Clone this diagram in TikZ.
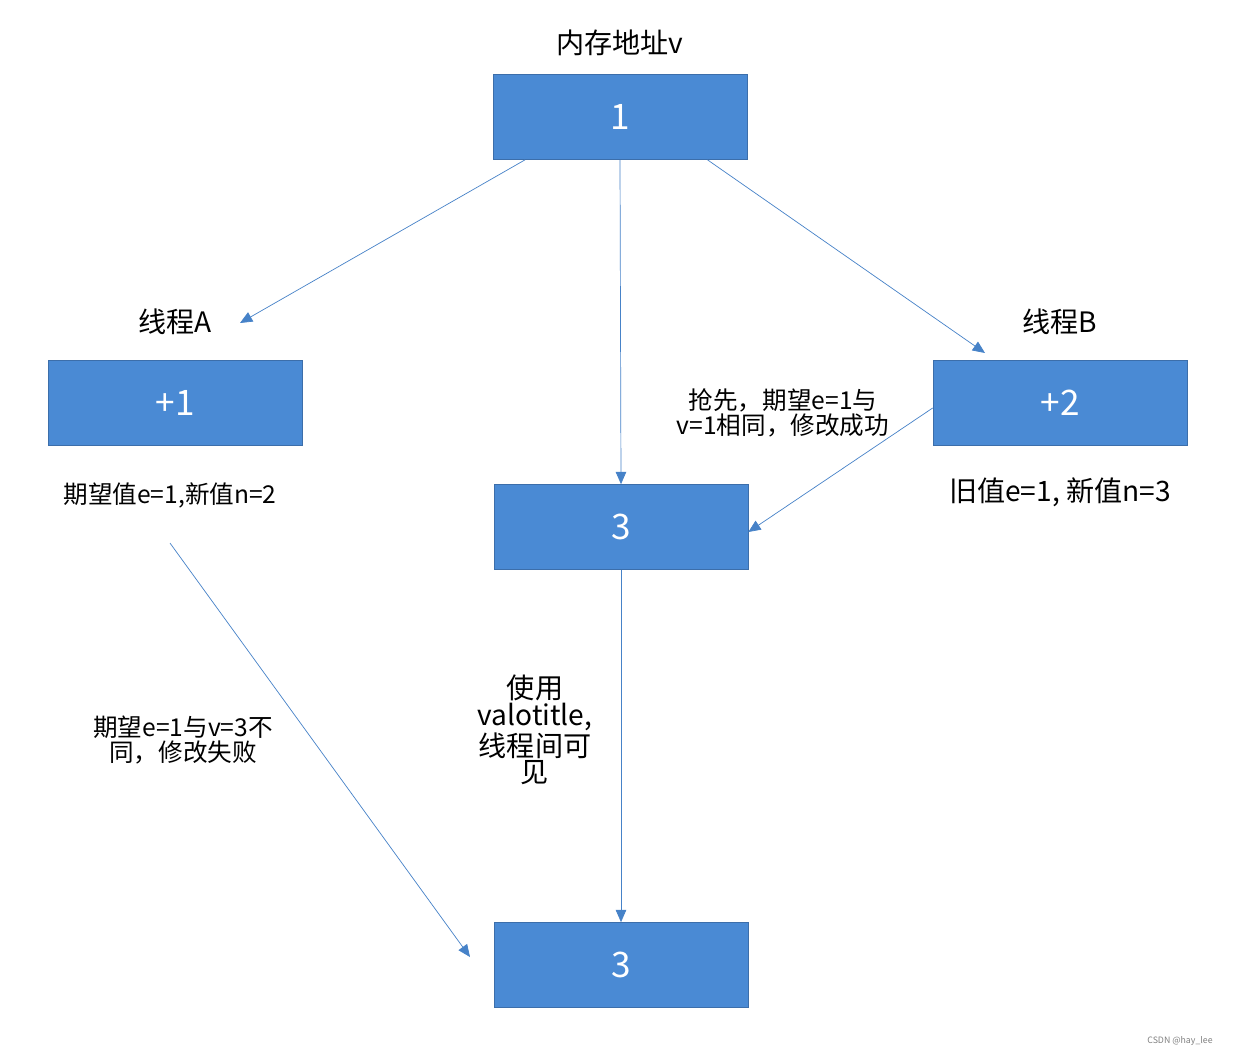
\documentclass[tikz,border=0pt]{standalone}
\usepackage{fontspec}
\setmainfont{Noto Sans CJK SC}
\usepackage{tikz}
\usetikzlibrary{arrows.meta}
\definecolor{boxblue}{RGB}{74,138,212}
\definecolor{boxline}{RGB}{60,110,170}
\definecolor{arrowblue}{RGB}{70,130,200}
\tikzset{
    cell/.style={draw=boxline, fill=boxblue, minimum width=5.08cm, minimum height=1.7cm, text=white, font=\fontsize{20}{22}\selectfont, inner sep=0pt},
    label/.style={font=\fontsize{16}{17}\selectfont, align=center, inner sep=0pt},
    link/.style={arrowblue, -{Triangle[length=7pt,width=6pt]}}
}
\begin{document}
\begin{tikzpicture}[x=0.02cm,y=-0.02cm]
    \useasboundingbox[fill=white] (0,0) rectangle (1240,1058);
    % boxes
    \node[cell] (mem) at (620,117) {1};
    \node[cell] (ta) at (175,403) {+1};
    \node[cell] (tb) at (1060,403) {+2};
    \node[cell] (mid) at (621,527) {3};
    \node[cell] (bot) at (621,965) {3};
    % labels
    \node[label] (memlbl) at (620,43) {内存地址v};
    \node[label] (talbl) at (175,322) {线程A};
    \node[label] (tblbl) at (1060,322) {线程B};
    \node[label, font=\fontsize{14}{15}\selectfont] (taval) at (170,495) {期望值e=1,新值n=2};
    \node[label] (tbval) at (1060,492) {旧值e=1, 新值n=3};
    \node[label, font=\fontsize{14}{13}\selectfont] (win) at (783,413) {抢先，期望e=1与\\v=1相同，修改成功};
    \node[label, font=\fontsize{16}{15}\selectfont] (vis) at (535,730) {使用\\valotitle,\\线程间可\\见};
    \node[label, font=\fontsize{14}{14}\selectfont] (fail) at (183,740) {期望e=1与v=3不\\同，修改失败};
    \node[font=\tiny, text=gray] (mark) at (1180,1041) {CSDN @hay\_lee};
    % free ends
    \coordinate (ea) at (240,323);
    \coordinate (eb) at (985,353);
    \coordinate (efail) at (470,957);
    % arrows
    \draw[link] ([xshift=-1.9cm]mem.south) -- (ea);
    \draw[link] (mem.south) -- (mid.north);
    \draw[link] ([xshift=1.75cm]mem.south) -- (eb);
    \draw[link] ([yshift=-0.1cm]tb.west) -- ([yshift=-0.1cm]mid.east);
    \draw[link] ([yshift=-0.7cm]taval.south) -- (efail);
    \draw[link] (mid.south) -- (bot.north);
\end{tikzpicture}
\end{document}
